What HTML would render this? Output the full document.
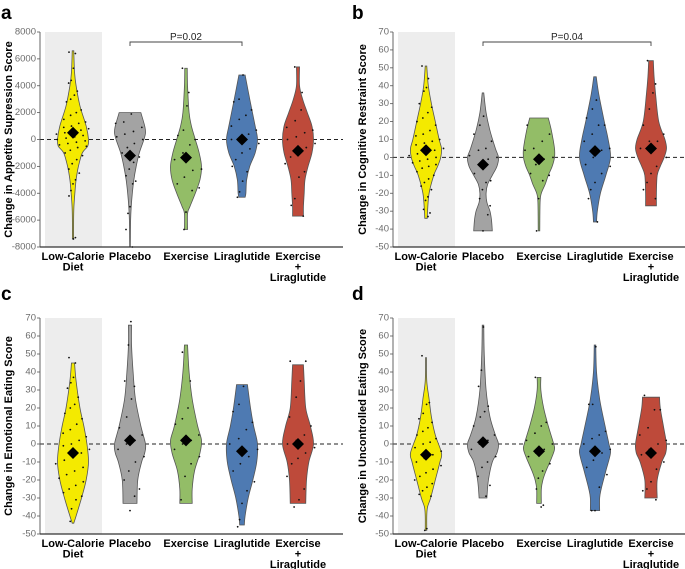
<!DOCTYPE html>
<html><head><meta charset="utf-8">
<style>
html,body{margin:0;padding:0;background:#fff;}
svg{display:block;font-family:"Liberation Sans",Arial,sans-serif;}
</style></head>
<body>
<svg id="chart" width="685" height="569" viewBox="0 0 685 569" xmlns="http://www.w3.org/2000/svg"></svg>
<script>
// ---- data ----
const categories = ["Low-Calorie Diet","Placebo","Exercise","Liraglutide","Exercise + Liraglutide"];
const panelLetters = ["a","b","c","d"];
const panelTitles = ["Change in Appetite Supression Score","Change in Cognitive Restraint Score","Change in Emotional Eating Score","Change in Uncontrolled Eating Score"];
const panelDomains = [[-8000,8000],[-50,70],[-50,70],[-50,70]];
const panelTicks = [
  [-8000,-6000,-4000,-2000,0,2000,4000,6000,8000],
  [-50,-40,-30,-20,-10,0,10,20,30,40,50,60,70],
  [-50,-40,-30,-20,-10,0,10,20,30,40,50,60,70],
  [-50,-40,-30,-20,-10,0,10,20,30,40,50,60,70]
];
const pValues = ["P=0.02","P=0.04",null,null];
const pPairs = [[1,3],[1,4],null,null];
// density profiles: [value, relative width]
const profilesA = [
  [[6600,.05],[5000,.1],[4000,.2],[2500,.45],[1000,.85],[0,1],[-500,.95],[-1000,.6],[-2000,.35],[-3000,.2],[-4000,.12],[-5000,.06],[-6000,.04],[-7400,.04]],
  [[2000,.7],[1000,.95],[500,1],[0,.9],[-1000,.6],[-2000,.4],[-3000,.25],[-4000,.15],[-5000,.08],[-6000,.04],[-8000,.02]],
  [[5300,.08],[4000,.1],[2000,.2],[1000,.35],[0,.6],[-1000,.85],[-2000,1],[-3000,.9],[-4000,.6],[-5000,.25],[-5500,.1],[-6700,.1]],
  [[4800,.2],[3000,.5],[1000,.85],[0,1],[-1000,.85],[-2000,.5],[-3000,.3],[-4000,.25],[-4300,.2]],
  [[5400,.1],[4000,.1],[3000,.3],[2000,.6],[1000,.9],[0,1],[-1000,.9],[-2000,.65],[-3000,.45],[-4000,.4],[-5000,.35],[-5700,.35]]
];
const profilesB = [
  [[51,.05],[40,.15],[30,.35],[20,.6],[10,.85],[5,1],[0,.95],[-5,.75],[-10,.5],[-20,.2],[-30,.1],[-34,.08]],
  [[36,.05],[25,.2],[15,.45],[5,.8],[0,1],[-5,.9],[-10,.6],[-15,.3],[-20,.2],[-25,.25],[-30,.45],[-35,.55],[-41,.6]],
  [[22,.6],[15,.8],[5,1],[0,1],[-5,.85],[-10,.6],[-15,.4],[-20,.15],[-25,.07],[-41,.05]],
  [[45,.08],[35,.25],[20,.6],[10,.85],[0,1],[-10,.7],[-20,.35],[-30,.15],[-36,.1]],
  [[54,.15],[45,.2],[35,.3],[20,.5],[10,.9],[5,1],[0,.85],[-5,.6],[-10,.4],[-20,.35],[-27,.35]]
];
const profilesC = [
  [[45,.1],[35,.2],[20,.45],[10,.7],[0,.9],[-10,1],[-20,.85],[-30,.55],[-40,.2],[-44,.05]],
  [[66,.1],[55,.1],[40,.2],[25,.35],[10,.7],[0,1],[-5,.95],[-10,.75],[-20,.5],[-33,.45]],
  [[55,.1],[40,.2],[25,.4],[10,.75],[2,1],[-5,.9],[-15,.55],[-25,.4],[-33,.4]],
  [[33,.35],[20,.55],[10,.75],[0,1],[-10,.95],[-20,.7],[-30,.4],[-40,.2],[-45,.15]],
  [[44,.35],[35,.4],[20,.5],[10,.8],[0,1],[-10,.7],[-20,.55],[-33,.5]]
];
const profilesD = [
  [[48,.03],[35,.05],[25,.2],[15,.35],[5,.6],[-5,1],[-10,.9],[-20,.6],[-30,.3],[-35,.1],[-40,.05],[-48,.05]],
  [[66,.05],[50,.08],[30,.2],[15,.45],[5,.8],[0,1],[-5,.9],[-10,.6],[-20,.35],[-30,.25]],
  [[37,.12],[30,.12],[20,.3],[10,.6],[0,.95],[-3,1],[-8,.8],[-15,.45],[-20,.25],[-25,.15],[-33,.15]],
  [[55,.05],[40,.1],[25,.3],[10,.65],[0,.9],[-5,1],[-15,.7],[-25,.4],[-30,.3],[-37,.3]],
  [[26,.55],[20,.6],[10,.8],[0,1],[-5,.95],[-10,.7],[-20,.4],[-30,.4]]
];
const meansA = [500,-1200,-1350,0,-850];
const meansB = [4,-4,-1,3.5,5];
const meansC = [-5,2,2,-4,0];
const meansD = [-6,1,-4,-4,-5];
const pointsA = [
  [6500,6400,5300,4400,4200,3600,3300,3000,2800,2200,2000,1800,1500,1300,1200,1000,900,800,700,600,500,400,300,200,100,0,-100,-200,-300,-400,-500,-600,-800,-1000,-1200,-1500,-1800,-2200,-2500,-3000,-3300,-3800,-4200,-7300,-7400],
  [1900,1300,1200,900,600,400,200,0,-300,-600,-1000,-1300,-1700,-2200,-2700,-3100,-3300,-5000,-5500,-6700,-8000],
  [5300,3500,2500,700,300,0,-400,-1000,-1500,-2200,-2300,-2800,-3300,-3600,-3800,-5400,-6700],
  [4800,3000,2800,2200,1800,1500,1000,700,400,200,0,-300,-700,-1000,-1500,-2000,-2400,-3100,-3900,-4300],
  [5400,3500,2200,1400,900,700,500,200,0,-300,-600,-900,-1300,-1800,-2400,-2800,-4400,-4900,-5700]
];
const pointsB = [
  [51,44,39,37,30,28,25,22,20,18,15,13,12,10,9,8,7,5,4,3,2,1,0,-1,-2,-3,-4,-5,-6,-8,-10,-12,-14,-16,-18,-22,-24,-29,-31,-33],
  [23,18,13,9,5,4,1,0,-1,-4,-9,-13,-14,-18,-23,-27,-32,-41],
  [18,13,9,5,4,0,-1,-4,-9,-10,-13,-23,-41],
  [32,27,22,18,18,13,9,5,4,0,-4,-5,-9,-14,-18,-23,-36],
  [54,41,36,27,18,13,9,9,5,0,-5,-9,-14,-18,-23]
];
const pointsC = [
  [48,45,37,34,31,26,22,20,17,14,11,8,6,4,2,0,-1,-3,-5,-7,-9,-11,-13,-15,-17,-19,-21,-23,-25,-27,-29,-31,-36,-43],
  [68,55,35,32,25,15,9,5,2,0,-3,-7,-10,-15,-20,-25,-29,-37],
  [51,35,20,14,11,5,2,0,-3,-7,-11,-18,-31],
  [32,22,18,12,8,3,0,-3,-7,-11,-15,-21,-26,-33,-42,-46],
  [46,46,35,26,15,10,5,2,0,-2,-5,-8,-11,-18,-25,-31,-35]
];
const pointsD = [
  [49,23,22,17,14,12,9,7,5,3,1,0,-2,-4,-6,-8,-10,-12,-14,-16,-18,-20,-22,-24,-26,-28,-29,-47,-48],
  [65,41,32,21,18,15,10,5,2,0,-3,-7,-10,-13,-18,-23,-29],
  [37,12,10,6,2,0,-3,-5,-7,-11,-15,-19,-25,-34,-35],
  [54,22,22,7,5,3,0,-3,-5,-9,-13,-17,-24,-37,-37],
  [27,19,19,9,5,2,0,-3,-6,-10,-14,-21,-25,-26,-31]
];
const allProfiles = [profilesA,profilesB,profilesC,profilesD];
const allMeans = [meansA,meansB,meansC,meansD];
const allPoints = [pointsA,pointsB,pointsC,pointsD];

// ---- layout (styles/positions, not data) ----
const fills = ["#f4ea00","#a3a3a3","#93bd67","#4e7ab2","#be4a3a"];
const panelGeom = [
  {ax:40, top:32, bot:247, lx:1, ly:19, tx:9},
  {ax:393, top:32, bot:247, lx:352, ly:19, tx:363},
  {ax:40, top:318, bot:534, lx:1, ly:300, tx:9},
  {ax:393, top:318, bot:534, lx:352, ly:300, tx:363}
];
const catOffsets = [33,90,146,202,258];
const halfW = 15.5;
const NS = "http://www.w3.org/2000/svg";
const svg = document.getElementById('chart');
function mk(tag, attrs, parent){
  const e = document.createElementNS(NS, tag);
  for (const k in attrs) e.setAttribute(k, attrs[k]);
  (parent||svg).appendChild(e);
  return e;
}
function widthAt(prof, v){
  for (let i=0;i<prof.length-1;i++){
    const a=prof[i], b=prof[i+1];
    if (v<=a[0] && v>=b[0]){ const t=(a[0]-v)/(a[0]-b[0]||1); return a[1]+(b[1]-a[1])*t; }
  }
  return prof[prof.length-1][1];
}
function smoothPath(pts){
  let d = "M"+pts[0][0].toFixed(2)+","+pts[0][1].toFixed(2);
  for (let i=0;i<pts.length-1;i++){
    const p0=pts[Math.max(0,i-1)], p1=pts[i], p2=pts[i+1], p3=pts[Math.min(pts.length-1,i+2)];
    const c1=[p1[0]+(p2[0]-p0[0])/6, p1[1]+(p2[1]-p0[1])/6];
    const c2=[p2[0]-(p3[0]-p1[0])/6, p2[1]-(p3[1]-p1[1])/6];
    d += "C"+c1[0].toFixed(2)+","+c1[1].toFixed(2)+" "+c2[0].toFixed(2)+","+c2[1].toFixed(2)+" "+p2[0].toFixed(2)+","+p2[1].toFixed(2);
  }
  return d;
}

panelGeom.forEach((g, pi) => {
  const dom = panelDomains[pi];
  const y = v => g.bot - (v-dom[0])/(dom[1]-dom[0])*(g.bot-g.top);
  const xc = i => g.ax + catOffsets[i];
  const grp = mk('g', {});
  
  

  const shade = mk('rect', {x:g.ax+5, y:g.top, width:57, height:g.bot-g.top, fill:'#ededed'}, grp);
  
  

  const letter = mk('text', {x:g.lx, y:g.ly, 'font-size':19, 'font-weight':'bold', fill:'#000'}, grp);
  letter.textContent = panelLetters[pi];
  
  

  const ttl = mk('text', {x:g.tx, y:(g.top+g.bot)/2, 'font-size':11, 'font-weight':'bold', 'text-anchor':'middle', transform:'rotate(-90 '+g.tx+' '+((g.top+g.bot)/2)+')', 'dominant-baseline':'central'}, grp);
  ttl.textContent = panelTitles[pi];
  
  

  panelTicks[pi].forEach(t => {
    const tk = mk('line', {x1:g.ax-3, x2:g.ax, y1:y(t), y2:y(t), stroke:'#555', 'stroke-width':0.8}, grp);
    
    
    const tl = mk('text', {x:g.ax-4, y:y(t), 'font-size':9.5, fill:'#6b6b6b', 'text-anchor':'end', 'dominant-baseline':'central'}, grp);
    tl.textContent = t;
    
    
  });

  const zl = mk('line', {x1:g.ax, x2:g.ax+303, y1:y(0), y2:y(0), stroke:'#222', 'stroke-width':1, 'stroke-dasharray':'4,3'}, grp);
  
  

  allProfiles[pi].forEach((prof, ci) => {
    const right = prof.map(p => [xc(ci)+p[1]*halfW, y(p[0])]);
    const left = prof.slice().reverse().map(p => [xc(ci)-p[1]*halfW, y(p[0])]);
    let d = smoothPath(right);
    d += "L" + left[0][0].toFixed(2)+","+left[0][1].toFixed(2);
    d += smoothPath(left).replace(/^M[^C]*/, '');
    d += "Z";
    const v = mk('path', {d:d, fill:fills[ci], stroke:'#555', 'stroke-width':0.8}, grp);
    
    

    allPoints[pi][ci].forEach((val, k) => {
      const w = widthAt(prof, val)*halfW;
      const off = (((k*37+ci*11)%21)-10)/10 * Math.max(w+2, 4);
      const dot = mk('circle', {cx:xc(ci)+off, cy:y(val), r:0.9, fill:'#111'}, grp);
      
      
    });

    const m = allMeans[pi][ci], my = y(m), mx = xc(ci), s = 6;
    const dm = mk('path', {d:`M${mx},${my-s}L${mx+s},${my}L${mx},${my+s}L${mx-s},${my}Z`, fill:'#000'}, grp);
    
    
  });

  const yaxis = mk('line', {x1:g.ax, x2:g.ax, y1:g.top, y2:g.bot, stroke:'#555', 'stroke-width':0.9}, grp);
  
  
  const xaxis = mk('line', {x1:g.ax, x2:g.ax+303, y1:g.bot, y2:g.bot, stroke:'#333', 'stroke-width':1.2}, grp);
  
  

  categories.forEach((c, ci) => {
    const lines = c === "Low-Calorie Diet" ? ["Low-Calorie","Diet"] : (c === "Exercise + Liraglutide" ? ["Exercise","+","Liraglutide"] : [c]);
    const t = mk('text', {x:xc(ci), y:g.bot+13, 'font-size':11, 'font-weight':'bold', 'text-anchor':'middle'}, grp);
    
    
    lines.forEach((ln, li) => {
      const ts = mk('tspan', {x:xc(ci), dy: li===0 ? 0 : 10.5}, t);
      ts.textContent = ln;
    });
  });

  if (pValues[pi]) {
    const [a,b] = pPairs[pi];
    const by = g.top + 10;
    const br = mk('path', {d:`M${xc(a)},${by+4}V${by}H${xc(b)}V${by+4}`, fill:'none', stroke:'#444', 'stroke-width':0.9}, grp);
    
    
    const pt = mk('text', {x:(xc(a)+xc(b))/2, y:by-2, 'font-size':10, 'text-anchor':'middle', fill:'#222'}, grp);
    pt.textContent = pValues[pi];
    
    
  }
});
</script>
</body></html>
